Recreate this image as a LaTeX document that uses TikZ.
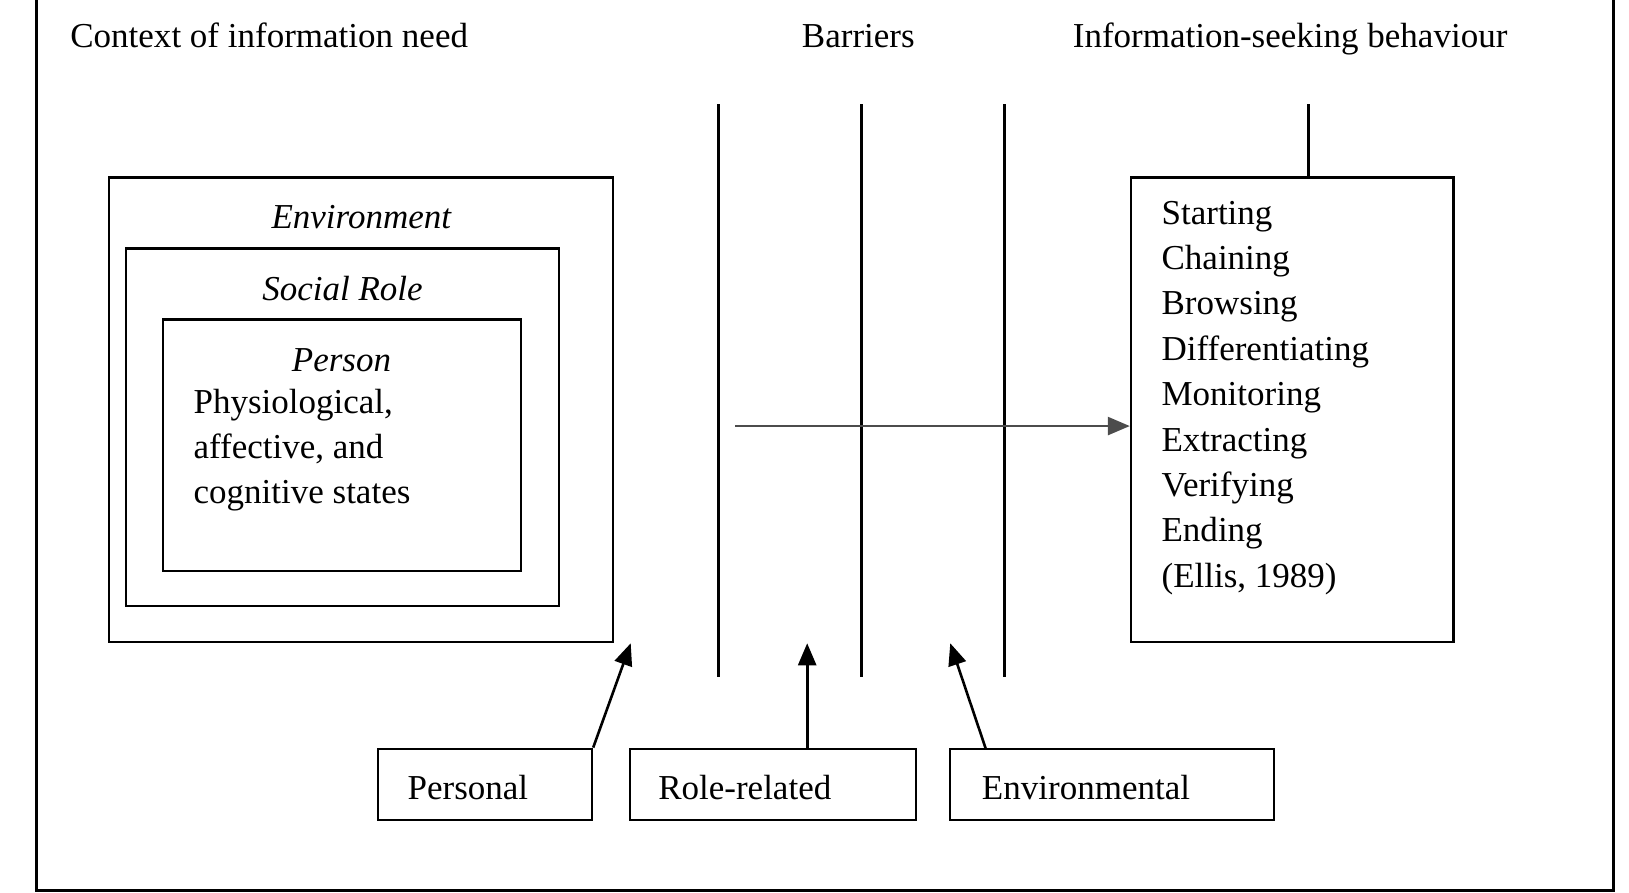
\documentclass[tikz,border=0pt]{standalone}
\usepackage{fontspec}
\setmainfont{Liberation Serif}
\usetikzlibrary{positioning,arrows.meta}

\tikzset{
  txt/.style={inner sep=0pt,font=\fontsize{17.5}{22}\selectfont},
  box/.style={draw,line width=1.1pt,inner sep=0pt},
  barrier/.style={line width=1.1pt},
  arr/.style={line width=1.3pt,-{Triangle[length=11pt,width=9pt]}}
}

\begin{document}
\begin{tikzpicture}[x=0.522pt,y=-0.522pt]
\useasboundingbox (0,0) rectangle (1560,855);

% outer frame
\draw[line width=1.3pt] (35,0) -- (35,853) -- (1545,853) -- (1545,0);

% headings
\node[txt,anchor=base west] (ctx) at (67,45) {Context of information need};
\node[txt,anchor=base] (bar) at (822,45) {Barriers};
\node[txt,anchor=base west] (isb) at (1027,45) {Information-seeking behaviour};

% nested context boxes
\node[box,minimum width=483*0.522pt,minimum height=445*0.522pt] (env) at (345.5,392.5) {};
\node[box,minimum width=414*0.522pt,minimum height=342*0.522pt] (role) at (328,409) {};
\node[box,minimum width=343*0.522pt,minimum height=241*0.522pt] (pers) at (327.5,426.5) {};
\node[txt,font=\fontsize{17.5}{22}\selectfont\itshape] (envl) at (346,208) {Environment};
\node[txt,font=\fontsize{17.5}{22}\selectfont\itshape] (rolel) at (328,276) {Social Role};
\node[txt,font=\fontsize{17.5}{22}\selectfont\itshape] (persl) at (327,345) {Person};
\node[txt,anchor=north west,align=left,font=\fontsize{17.5}{22.6}\selectfont] (state) at (185,372)
  {Physiological,\\affective, and\\cognitive states};

% barrier lines
\foreach \x [count=\i] in {688,825,962}
  \draw[barrier] (\x,100) coordinate (b\i t) -- (\x,648) coordinate (b\i b);

% behaviour box
\node[box,minimum width=309*0.522pt,minimum height=445*0.522pt] (beh) at (1237.5,392.5) {};
\node[txt,anchor=north west,align=left,font=\fontsize{17.5}{22.7}\selectfont] (list) at (1112,192)
  {Starting\\Chaining\\Browsing\\Differentiating\\Monitoring\\Extracting\\Verifying\\Ending\\(Ellis, 1989)};
\coordinate (isbl) at (1253,100);
\draw[barrier] (isbl) -- (isbl |- beh.north);

% main arrow
\coordinate (start) at (704,408);
\draw[arr,draw=black!70] (start) -- (beh.west |- start);

% barrier types
\node[box,minimum width=205*0.522pt,minimum height=68*0.522pt] (personal) at (464.5,751) {};
\node[box,minimum width=274*0.522pt,minimum height=68*0.522pt] (rolerel) at (740,751) {};
\node[box,minimum width=310*0.522pt,minimum height=68*0.522pt] (envir) at (1065,751) {};
\node[txt,anchor=base west] at (390,766) {Personal};
\node[txt,anchor=base west] at (630,766) {Role-related};
\node[txt,anchor=base west] at (940,766) {Environmental};

\coordinate (t1) at (604,616);
\coordinate (t2) at (773,616);
\coordinate (t3) at (910,616);
\draw[arr] (personal.north east) -- (t1);
\draw[arr] (rolerel.north -| t2) -- (t2);
\draw[arr] (944,717) -- (t3);

\end{tikzpicture}
\end{document}
